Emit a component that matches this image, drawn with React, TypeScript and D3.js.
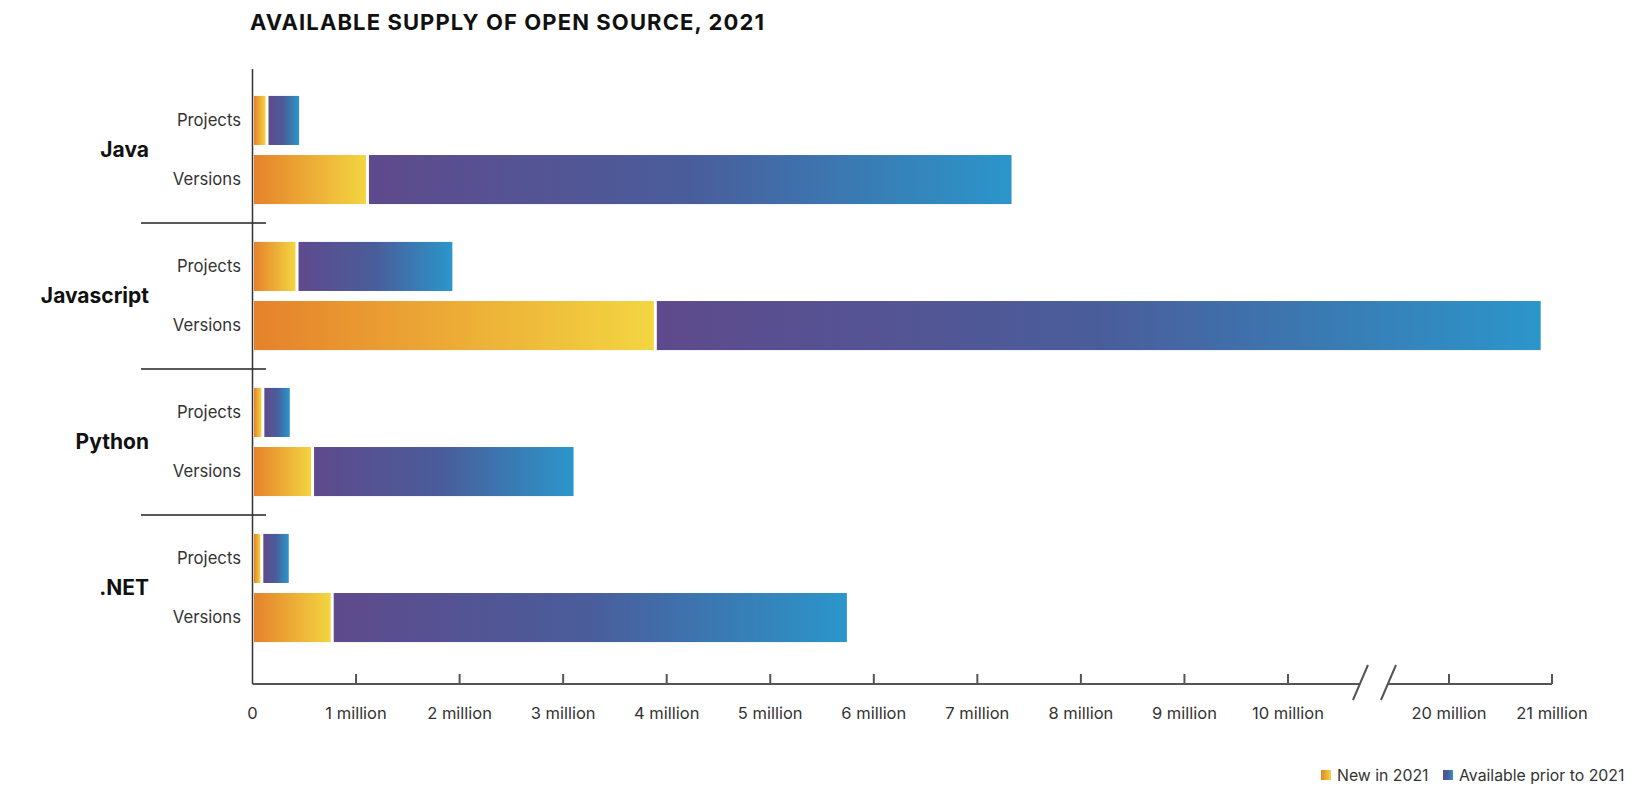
import { useEffect } from 'react';
import * as d3 from 'd3';

// values in millions
const languages = ['Java', 'Javascript', 'Python', '.NET'];
const measures = ['Projects', 'Versions'];
const newProjects = [0.14, 0.43, 0.10, 0.09];
const totalProjects = [0.45, 1.93, 0.36, 0.35];
const newVersions = [1.11, 3.89, 0.58, 0.77];
const totalVersions = [7.33, 20.89, 3.10, 5.74];
const tickValues = [0, 1, 2, 3, 4, 5, 6, 7, 8, 9, 10, 20, 21];
const legendLabels = ['New in 2021', 'Available prior to 2021'];

const W = 1649, H = 799;
const FONT = 'Inter, "Open Sans", sans-serif';

export default function App() {
  useEffect(() => { document.body.style.margin = '0'; }, []);

  // broken axis: 0-10M linear, then jumps to 20-21M
  const x = d3.scaleLinear().domain([0, 10, 20, 21]).range([252.5, 1288, 1449, 1552]);
  const axisY = 684;
  const yGroup = d3.scaleBand<string>().domain(languages).range([77, 661]);
  const yInner = d3.scaleBand<string>().domain(measures)
    .range([0, yGroup.bandwidth()]).paddingInner(0.17).paddingOuter(0.32);

  const rows = languages.flatMap((lang, i) => [
    { lang, measure: 'Projects', added: newProjects[i], total: totalProjects[i] },
    { lang, measure: 'Versions', added: newVersions[i], total: totalVersions[i] },
  ]);

  const x0 = x(0);
  const gapW = x(20) - x(10);
  const breakA = x(10) + gapW * 0.447;
  const breakB = x(10) + gapW * 0.621;

  return (
    <svg width={W} height={H} style={{ display: 'block', background: '#fff' }} fontFamily={FONT}>
      <defs>
        <linearGradient id="gNew" x1="0" y1="0" x2="1" y2="0">
          <stop offset="0%" stopColor="#E5822B" />
          <stop offset="100%" stopColor="#F3D541" />
        </linearGradient>
        <linearGradient id="gPrior" x1="0" y1="0" x2="1" y2="0">
          <stop offset="0%" stopColor="#5E4A8C" />
          <stop offset="50%" stopColor="#4A5D9B" />
          <stop offset="100%" stopColor="#2B96CA" />
        </linearGradient>
      </defs>

      <text x={250} y={30} fontSize={22} fontWeight={700} letterSpacing={1.1} fill="#111">
        AVAILABLE SUPPLY OF OPEN SOURCE, 2021
      </text>

      {/* bars */}
      {rows.map(r => {
        const y = (yGroup(r.lang) ?? 0) + (yInner(r.measure) ?? 0);
        const h = yInner.bandwidth();
        const xn = x(r.added);
        return (
          <g key={r.lang + r.measure}>
            <rect x={x0 + 1.5} y={y} width={Math.max(0, xn - x0 - 3)} height={h} fill="url(#gNew)" />
            <rect x={xn + 1.5} y={y} width={x(r.total) - xn - 1.5} height={h} fill="url(#gPrior)" />
            <text x={241} y={y + h / 2} dy="0.35em" textAnchor="end" fontSize={16.7} fill="#333">
              {r.measure}
            </text>
          </g>
        );
      })}

      {/* group labels and separators */}
      {languages.map((lang, i) => {
        const top = yGroup(lang) ?? 0;
        return (
          <g key={lang}>
            <text x={149} y={top + yGroup.bandwidth() / 2} dy="0.35em" textAnchor="end"
              fontSize={21} fontWeight={700} fill="#111">{lang}</text>
            {i > 0 && <line x1={141} x2={266} y1={top} y2={top} stroke="#222" strokeWidth={1.5} />}
          </g>
        );
      })}

      {/* y axis */}
      <line x1={x0} x2={x0} y1={69} y2={axisY} stroke="#333" strokeWidth={1.5} />

      {/* x axis with break */}
      <line x1={x0} x2={breakA} y1={axisY} y2={axisY} stroke="#555" strokeWidth={2} />
      <line x1={breakB} x2={x(21)} y1={axisY} y2={axisY} stroke="#555" strokeWidth={2} />
      {[breakA, breakB].map(bx => (
        <line key={bx} x1={bx - 7} y1={axisY + 16} x2={bx + 8} y2={axisY - 19} stroke="#555" strokeWidth={2} />
      ))}
      {tickValues.map(v => (
        <g key={v}>
          {v > 0 && <line x1={x(v)} x2={x(v)} y1={axisY} y2={axisY - 10} stroke="#555" strokeWidth={2} />}
          <text x={x(v)} y={719} textAnchor="middle" fontSize={16.5} fill="#333">
            {v === 0 ? '0' : `${v} million`}
          </text>
        </g>
      ))}

      {/* legend */}
      <rect x={1321} y={770} width={10} height={10} fill="url(#gNew)" />
      <text x={1337} y={781} fontSize={15.8} fill="#333">{legendLabels[0]}</text>
      <rect x={1443} y={770} width={10} height={10} fill="url(#gPrior)" />
      <text x={1459} y={781} fontSize={15.8} fill="#333">{legendLabels[1]}</text>
    </svg>
  );
}
